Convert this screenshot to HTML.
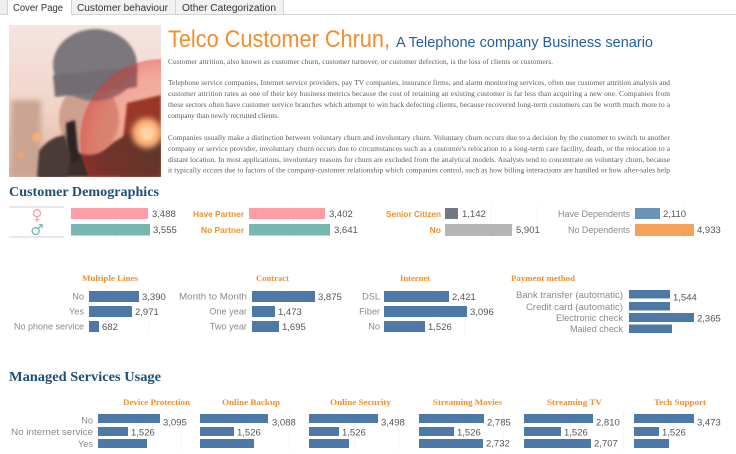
<!DOCTYPE html>
<html><head><meta charset="utf-8"><style>
html,body{margin:0;padding:0;background:#fff;width:736px;height:454px;overflow:hidden}
svg{display:block}
.tab{font-family:"Liberation Sans",sans-serif;font-size:10px;fill:#333}
.p{font-family:"Liberation Serif",serif;font-size:7.4px;fill:#5a5a5a}
.h{font-family:"Liberation Serif",serif;font-weight:bold;font-size:14px;fill:#1f4e79}
.sh{font-family:"Liberation Serif",serif;font-weight:bold;font-size:8.5px;fill:#f28e2b}
.ol{font-family:"Liberation Sans",sans-serif;font-weight:bold;font-size:8.5px;fill:#f28e2b}
.l{font-family:"Liberation Sans",sans-serif;font-size:9.2px;fill:#8a8a8a}
.v{font-family:"Liberation Sans",sans-serif;font-size:9.5px;fill:#555}
.b{fill:#4e79a7}
</style></head><body>
<svg width="736" height="454" viewBox="0 0 736 454" xmlns="http://www.w3.org/2000/svg">
<defs>
<linearGradient id="bg" x1="0" y1="0" x2="0" y2="1">
<stop offset="0" stop-color="#f6e4e0"/><stop offset="0.55" stop-color="#f1d4c8"/><stop offset="1" stop-color="#e4b29c"/>
</linearGradient>
<radialGradient id="rg" cx="0.5" cy="0.5" r="0.5">
<stop offset="0" stop-color="#ff5a30" stop-opacity="0.15"/>
<stop offset="0.8" stop-color="#f03a28" stop-opacity="0.32"/>
<stop offset="0.97" stop-color="#e8302a" stop-opacity="0.45"/>
<stop offset="1" stop-color="#e8302a" stop-opacity="0"/>
</radialGradient>
<filter id="bl" x="-50%" y="-50%" width="200%" height="200%"><feGaussianBlur stdDeviation="3"/></filter>
<filter id="bl2" x="-50%" y="-50%" width="200%" height="200%"><feGaussianBlur stdDeviation="1.2"/></filter>
<clipPath id="pc"><rect x="0" y="0" width="152" height="152"/></clipPath>
</defs>

<!-- tabs -->
<rect x="0" y="0" width="736" height="14" fill="#fff"/>
<rect x="0" y="0" width="7" height="14" fill="#eeeeee"/>
<rect x="71" y="0" width="212" height="14" fill="#f2f2f2"/>
<line x1="0" y1="14.5" x2="7" y2="14.5" stroke="#d4d4d4"/>
<line x1="71" y1="14.5" x2="736" y2="14.5" stroke="#d4d4d4"/>
<line x1="7.5" y1="0" x2="7.5" y2="15" stroke="#d4d4d4"/>
<line x1="71.5" y1="0" x2="71.5" y2="15" stroke="#d4d4d4"/>
<line x1="175.5" y1="0" x2="175.5" y2="14" stroke="#d4d4d4"/>
<line x1="283.5" y1="0" x2="283.5" y2="14" stroke="#d4d4d4"/>
<text class="tab" x="13" y="11" textLength="50" lengthAdjust="spacingAndGlyphs">Cover Page</text>
<text class="tab" x="77" y="11" textLength="91" lengthAdjust="spacingAndGlyphs">Customer behaviour</text>
<text class="tab" x="182" y="11" textLength="94" lengthAdjust="spacingAndGlyphs">Other Categorization</text>

<!-- photo -->
<g transform="translate(9,25)" clip-path="url(#pc)">
<rect width="152" height="152" fill="url(#bg)"/>
<rect x="2" y="75" width="30" height="77" fill="#c9a492" filter="url(#bl)"/>
<circle cx="28" cy="112" r="5" fill="#f2b07e" filter="url(#bl2)"/>
<circle cx="12" cy="130" r="4" fill="#e8a57a" filter="url(#bl2)"/>
<path d="M118,78 L152,70 L152,152 L110,152 Z" fill="#7a3328" filter="url(#bl2)"/>
<path d="M30,152 L40,130 Q62,118 90,126 L120,108 L152,112 L152,152 Z" fill="#3e2e2c" filter="url(#bl2)"/>
<ellipse cx="80" cy="94" rx="30" ry="36" fill="#cf9f8e" filter="url(#bl2)"/>
<ellipse cx="86" cy="40" rx="42" ry="36" fill="#7c777c" filter="url(#bl2)"/>
<path d="M44,50 L128,42 L128,62 L46,72 Z" fill="#726d72" filter="url(#bl2)"/>
<path d="M57,98 L66,95 L70,135 L58,138 Z" fill="#2d2321" filter="url(#bl2)"/>
<path d="M28,152 L30,126 Q40,112 56,110 L62,130 L58,152 Z" fill="#4b3a37" filter="url(#bl2)"/>
<circle cx="152" cy="115" r="82" fill="url(#rg)"/>
<circle cx="138" cy="108" r="15" fill="#ffb67a" filter="url(#bl)"/>
<circle cx="138" cy="108" r="7" fill="#ffd5a8" filter="url(#bl2)"/>
</g>

<!-- title -->
<text x="168" y="47" font-family="Liberation Sans, sans-serif" font-size="24" fill="#f28e2b" textLength="222" lengthAdjust="spacingAndGlyphs">Telco Customer Chrun,</text>
<text x="396" y="47" font-family="Liberation Sans, sans-serif" font-size="15" fill="#1f5ea8" textLength="257" lengthAdjust="spacingAndGlyphs">A Telephone company Business senario</text>

<!-- paragraphs -->
<text class="p" x="168" y="64" textLength="385" lengthAdjust="spacing">Customer attrition, also known as customer churn, customer turnover, or customer defection, is the loss of clients or customers.</text>
<text class="p" x="168" y="85" textLength="502" lengthAdjust="spacing">Telephone service companies, Internet service providers, pay TV companies, insurance firms, and alarm monitoring services, often use customer attrition analysis and</text>
<text class="p" x="168" y="96" textLength="502" lengthAdjust="spacing">customer attrition rates as one of their key business metrics because the cost of retaining an existing customer is far less than acquiring a new one. Companies from</text>
<text class="p" x="168" y="107" textLength="502" lengthAdjust="spacing">these sectors often have customer service branches which attempt to win back defecting clients, because recovered long-term customers can be worth much more to a</text>
<text class="p" x="168" y="118" textLength="111" lengthAdjust="spacing">company than newly recruited clients.</text>
<text class="p" x="168" y="140" textLength="502" lengthAdjust="spacing">Companies usually make a distinction between voluntary churn and involuntary churn. Voluntary churn occurs due to a decision by the customer to switch to another</text>
<text class="p" x="168" y="151" textLength="502" lengthAdjust="spacing">company or service provider, involuntary churn occurs due to circumstances such as a customer's relocation to a long-term care facility, death, or the relocation to a</text>
<text class="p" x="168" y="162" textLength="502" lengthAdjust="spacing">distant location. In most applications, involuntary reasons for churn are excluded from the analytical models. Analysts tend to concentrate on voluntary churn, because</text>
<text class="p" x="168" y="172.5" textLength="502" lengthAdjust="spacing">it typically occurs due to factors of the company-customer relationship which companies control, such as how billing interactions are handled or how after-sales help</text>

<!-- Customer Demographics -->
<text class="h" x="9" y="196" textLength="150" lengthAdjust="spacingAndGlyphs">Customer Demographics</text>
<line x1="9" y1="207" x2="64" y2="207" stroke="#d2d2d2"/>
<line x1="9" y1="237" x2="64" y2="237" stroke="#d2d2d2"/>
<text x="37" y="220" text-anchor="middle" font-family="DejaVu Sans, sans-serif" font-size="15" fill="#ff9da7">♀</text>
<text x="37" y="235" text-anchor="middle" font-family="DejaVu Sans, sans-serif" font-size="15" fill="#76b7b2">♂</text>
<g stroke="#f5f5f5">
<line x1="115.5" y1="205" x2="115.5" y2="239"/>
<line x1="293.5" y1="205" x2="293.5" y2="239"/>
<line x1="491.5" y1="205" x2="491.5" y2="239"/>
<line x1="537.5" y1="205" x2="537.5" y2="239"/>
<line x1="684.5" y1="205" x2="684.5" y2="239"/>
</g>
<rect x="71" y="208" width="77" height="11" fill="#ff9da7"/>
<rect x="71" y="224" width="79" height="11.5" fill="#76b7b2"/>
<text class="v" x="152" y="217">3,488</text>
<text class="v" x="153" y="233">3,555</text>

<text class="ol" x="244" y="217" text-anchor="end" textLength="51" lengthAdjust="spacingAndGlyphs">Have Partner</text>
<text class="ol" x="244" y="233" text-anchor="end" textLength="43" lengthAdjust="spacingAndGlyphs">No Partner</text>
<rect x="249" y="208" width="76" height="11" fill="#ff9da7"/>
<rect x="249" y="224" width="81" height="11.5" fill="#76b7b2"/>
<text class="v" x="329" y="217">3,402</text>
<text class="v" x="334" y="233">3,641</text>

<text class="ol" x="441" y="217" text-anchor="end" textLength="55" lengthAdjust="spacingAndGlyphs">Senior Citizen</text>
<text class="ol" x="441" y="233" text-anchor="end">No</text>
<rect x="445" y="208" width="13" height="11" fill="#727886"/>
<rect x="445" y="224" width="67" height="12" fill="#b4b6b6"/>
<text class="v" x="462" y="217">1,142</text>
<text class="v" x="516" y="233">5,901</text>

<text class="l" x="630" y="217" text-anchor="end" textLength="72" lengthAdjust="spacingAndGlyphs">Have Dependents</text>
<text class="l" x="630" y="233" text-anchor="end" textLength="62" lengthAdjust="spacingAndGlyphs">No Dependents</text>
<rect x="635" y="208" width="25" height="11" fill="#6a92b8"/>
<rect x="635" y="224" width="59" height="12" fill="#f4a257"/>
<text class="v" x="663" y="217">2,110</text>
<text class="v" x="697" y="233">4,933</text>

<!-- middle section -->
<text class="sh" x="82" y="281" textLength="56" lengthAdjust="spacingAndGlyphs">Multiple Lines</text>
<text class="sh" x="256" y="281" textLength="33" lengthAdjust="spacingAndGlyphs">Contract</text>
<text class="sh" x="400" y="281" textLength="30" lengthAdjust="spacingAndGlyphs">Internet</text>
<text class="sh" x="511" y="281" textLength="64" lengthAdjust="spacingAndGlyphs">Payment method</text>

<g stroke="#f5f5f5">
<line x1="148.5" y1="288" x2="148.5" y2="334"/>
<line x1="285.5" y1="288" x2="285.5" y2="334"/>
<line x1="437.5" y1="288" x2="437.5" y2="334"/>
<line x1="464.5" y1="288" x2="464.5" y2="334"/>
</g>

<text class="l" x="84" y="299.5" text-anchor="end">No</text>
<text class="l" x="84" y="314.5" text-anchor="end">Yes</text>
<text class="l" x="84" y="329.5" text-anchor="end" textLength="70" lengthAdjust="spacingAndGlyphs">No phone service</text>
<rect class="b" x="89" y="291" width="50" height="11"/>
<rect class="b" x="89" y="306" width="43" height="11"/>
<rect class="b" x="89" y="321" width="10" height="11"/>
<text class="v" x="142" y="300">3,390</text>
<text class="v" x="135" y="315">2,971</text>
<text class="v" x="102" y="330">682</text>

<text class="l" x="247" y="299.5" text-anchor="end" textLength="68" lengthAdjust="spacingAndGlyphs">Month to Month</text>
<text class="l" x="247" y="314.5" text-anchor="end">One year</text>
<text class="l" x="247" y="329.5" text-anchor="end">Two year</text>
<rect class="b" x="252" y="291" width="63" height="11"/>
<rect class="b" x="252" y="306" width="23" height="11"/>
<rect class="b" x="252" y="321" width="27" height="11"/>
<text class="v" x="318" y="300">3,875</text>
<text class="v" x="278" y="315">1,473</text>
<text class="v" x="282" y="330">1,695</text>

<text class="l" x="380" y="299.5" text-anchor="end">DSL</text>
<text class="l" x="380" y="314.5" text-anchor="end">Fiber</text>
<text class="l" x="380" y="329.5" text-anchor="end">No</text>
<rect class="b" x="384" y="291" width="65" height="11"/>
<rect class="b" x="384" y="306" width="83" height="11"/>
<rect class="b" x="384" y="321" width="41" height="11"/>
<text class="v" x="452" y="300">2,421</text>
<text class="v" x="470" y="315">3,096</text>
<text class="v" x="428" y="330">1,526</text>

<text class="l" x="623" y="298" text-anchor="end" textLength="107" lengthAdjust="spacingAndGlyphs">Bank transfer (automatic)</text>
<text class="l" x="623" y="310" text-anchor="end" textLength="97" lengthAdjust="spacingAndGlyphs">Credit card (automatic)</text>
<text class="l" x="623" y="321" text-anchor="end" textLength="67" lengthAdjust="spacingAndGlyphs">Electronic check</text>
<text class="l" x="623" y="332" text-anchor="end" textLength="53" lengthAdjust="spacingAndGlyphs">Mailed check</text>
<rect class="b" x="629" y="290" width="41" height="8.5"/>
<rect class="b" x="629" y="302" width="41" height="8.5"/>
<rect class="b" x="629" y="313" width="65" height="9"/>
<rect class="b" x="629" y="324.5" width="43" height="8.5"/>
<text class="v" x="673" y="300.5">1,544</text>
<text class="v" x="697" y="321.5">2,365</text>

<!-- Managed Services -->
<text class="h" x="9" y="381" textLength="152" lengthAdjust="spacingAndGlyphs">Managed Services Usage</text>
<text class="sh" x="123" y="405" textLength="67" lengthAdjust="spacingAndGlyphs">Device Protection</text>
<text class="sh" x="222" y="405" textLength="58" lengthAdjust="spacingAndGlyphs">Online Backup</text>
<text class="sh" x="330" y="405" textLength="61" lengthAdjust="spacingAndGlyphs">Online Security</text>
<text class="sh" x="433" y="405" textLength="69" lengthAdjust="spacingAndGlyphs">Streaming Movies</text>
<text class="sh" x="547" y="405" textLength="55" lengthAdjust="spacingAndGlyphs">Streaming TV</text>
<text class="sh" x="654" y="405" textLength="52" lengthAdjust="spacingAndGlyphs">Tech Support</text>

<g stroke="#f5f5f5">
<line x1="137.5" y1="411" x2="137.5" y2="450"/>
<line x1="180.5" y1="411" x2="180.5" y2="450"/>
<line x1="245.5" y1="411" x2="245.5" y2="450"/>
<line x1="289.5" y1="411" x2="289.5" y2="450"/>
<line x1="354.5" y1="411" x2="354.5" y2="450"/>
<line x1="398.5" y1="411" x2="398.5" y2="450"/>
<line x1="465.5" y1="411" x2="465.5" y2="450"/>
<line x1="503.5" y1="411" x2="503.5" y2="450"/>
<line x1="570.5" y1="411" x2="570.5" y2="450"/>
<line x1="623.5" y1="411" x2="623.5" y2="450"/>
<line x1="669.5" y1="411" x2="669.5" y2="450"/>
</g>

<text class="l" x="93" y="423.3" text-anchor="end">No</text>
<text class="l" x="93" y="434.8" text-anchor="end" textLength="82" lengthAdjust="spacingAndGlyphs">No internet service</text>
<text class="l" x="93" y="446.8" text-anchor="end">Yes</text>

<rect class="b" x="98" y="414" width="62" height="9"/>
<rect class="b" x="98" y="427" width="30" height="9"/>
<rect class="b" x="98" y="439" width="49" height="9"/>
<text class="v" x="163" y="425.4">3,095</text>
<text class="v" x="131" y="435.4">1,526</text>

<rect class="b" x="200" y="414" width="68" height="9"/>
<rect class="b" x="200" y="427" width="34" height="9"/>
<rect class="b" x="200" y="439" width="54" height="9"/>
<text class="v" x="272" y="425.4">3,088</text>
<text class="v" x="237" y="435.4">1,526</text>

<rect class="b" x="309" y="414" width="69" height="9"/>
<rect class="b" x="309" y="427" width="30" height="9"/>
<rect class="b" x="309" y="439" width="40" height="9"/>
<text class="v" x="381" y="425.4">3,498</text>
<text class="v" x="342" y="435.4">1,526</text>

<rect class="b" x="419" y="414" width="65" height="9"/>
<rect class="b" x="419" y="427" width="35" height="9"/>
<rect class="b" x="419" y="439" width="64" height="9"/>
<text class="v" x="487" y="425.4">2,785</text>
<text class="v" x="457" y="435.4">1,526</text>
<text class="v" x="486" y="446.4">2,732</text>

<rect class="b" x="524" y="414" width="69" height="9"/>
<rect class="b" x="524" y="427" width="37" height="9"/>
<rect class="b" x="524" y="439" width="67" height="9"/>
<text class="v" x="596" y="425.4">2,810</text>
<text class="v" x="564" y="435.4">1,526</text>
<text class="v" x="594" y="446.4">2,707</text>

<rect class="b" x="634" y="414" width="60" height="9"/>
<rect class="b" x="634" y="427" width="25" height="9"/>
<rect class="b" x="634" y="439" width="35" height="9"/>
<text class="v" x="697" y="425.4">3,473</text>
<text class="v" x="662" y="435.4">1,526</text>
</svg>
</body></html>
